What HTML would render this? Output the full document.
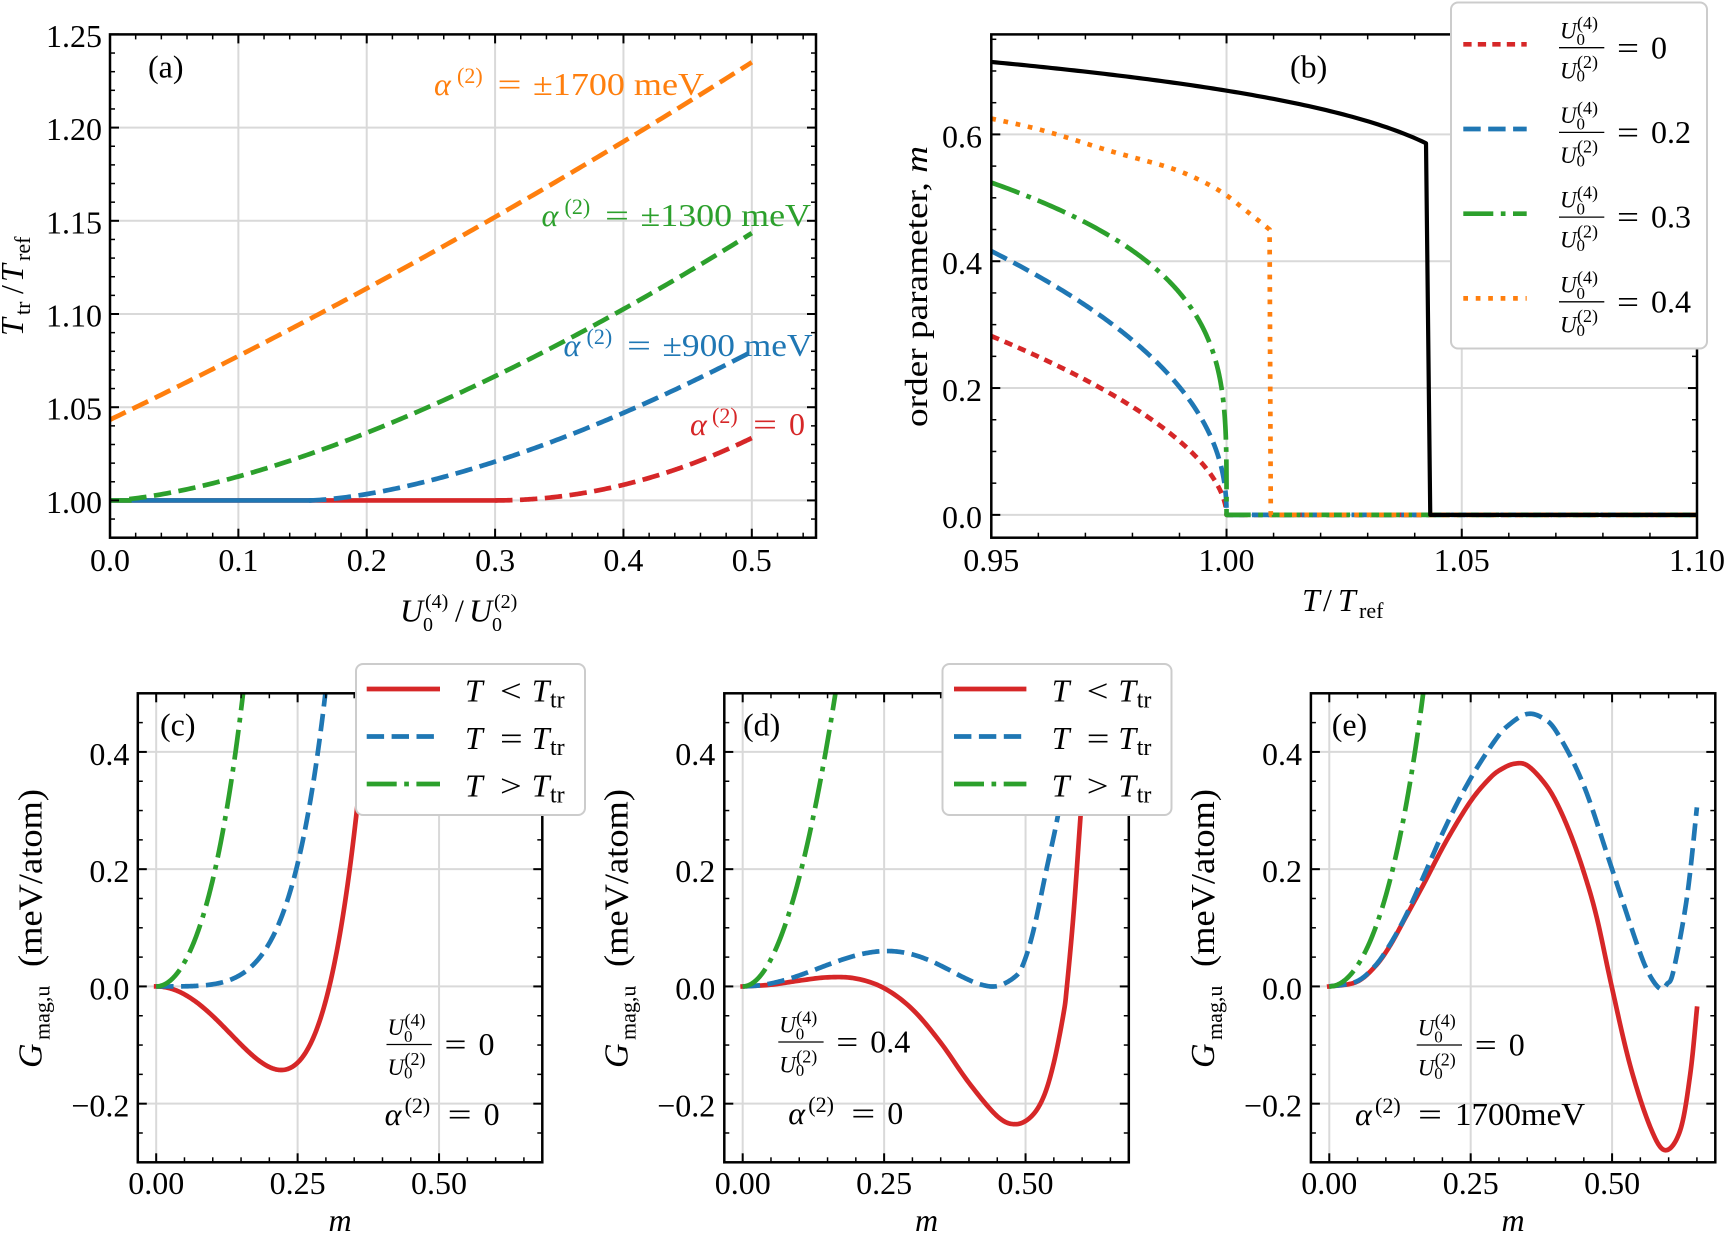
<!DOCTYPE html>
<html><head><meta charset="utf-8">
<style>
html,body{margin:0;padding:0;background:#fff;}
svg{display:block;}
text{font-family:"Liberation Serif","DejaVu Serif",serif;}
.it{font-style:italic;}
</style></head><body>
<svg id="fig" width="1725" height="1235" viewBox="0 0 1725 1235" xmlns="http://www.w3.org/2000/svg">
<defs>
<clipPath id="ca"><rect x="110" y="34.4" width="706" height="503.3"/></clipPath>
<clipPath id="cb"><rect x="991.3" y="34.4" width="705.7" height="503.3"/></clipPath>
<clipPath id="cc"><rect x="137.8" y="693.3" width="404.5" height="469"/></clipPath>
<clipPath id="cd"><rect x="724.3" y="693.3" width="404.5" height="469"/></clipPath>
<clipPath id="ce"><rect x="1310.9" y="693.3" width="404.4" height="469"/></clipPath>
</defs>
<rect width="1725" height="1235" fill="#fff"/>
<g id="grid"></g>
<g id="cv_a" clip-path="url(#ca)"></g>
<g id="cv_b" clip-path="url(#cb)"></g>
<g id="cv_c" clip-path="url(#cc)"></g>
<g id="cv_d" clip-path="url(#cd)"></g>
<g id="cv_e" clip-path="url(#ce)"></g>
<g id="axes"></g>

<!-- tick labels -->
<g font-size="32" fill="#000">
<g text-anchor="end">
<text x="102" y="512.9">1.00</text>
<text x="102" y="419.7">1.05</text>
<text x="102" y="326.5">1.10</text>
<text x="102" y="233.3">1.15</text>
<text x="102" y="140.1">1.20</text>
<text x="102" y="46.9">1.25</text>
<text x="982" y="527.9">0.0</text>
<text x="982" y="401">0.2</text>
<text x="982" y="274.2">0.4</text>
<text x="982" y="147.4">0.6</text>
<text x="129.4" y="765">0.4</text>
<text x="129.4" y="882.2">0.2</text>
<text x="129.4" y="999.4">0.0</text>
<text x="129.4" y="1116.7">−0.2</text>
<text x="715.3" y="765">0.4</text>
<text x="715.3" y="882.2">0.2</text>
<text x="715.3" y="999.4">0.0</text>
<text x="715.3" y="1116.7">−0.2</text>
<text x="1302" y="765">0.4</text>
<text x="1302" y="882.2">0.2</text>
<text x="1302" y="999.4">0.0</text>
<text x="1302" y="1116.7">−0.2</text>
</g>
<g text-anchor="middle">
<text x="110" y="571">0.0</text>
<text x="238.4" y="571">0.1</text>
<text x="366.7" y="571">0.2</text>
<text x="495.1" y="571">0.3</text>
<text x="623.4" y="571">0.4</text>
<text x="751.8" y="571">0.5</text>
<text x="991.3" y="571">0.95</text>
<text x="1226.5" y="571">1.00</text>
<text x="1461.8" y="571">1.05</text>
<text x="1697" y="571">1.10</text>
<text x="156.2" y="1194">0.00</text>
<text x="297.6" y="1194">0.25</text>
<text x="439" y="1194">0.50</text>
<text x="742.7" y="1194">0.00</text>
<text x="884.1" y="1194">0.25</text>
<text x="1025.5" y="1194">0.50</text>
<text x="1329.3" y="1194">0.00</text>
<text x="1470.7" y="1194">0.25</text>
<text x="1612.1" y="1194">0.50</text>
</g>
</g>

<!-- axis labels -->
<g fill="#000" font-size="32">
<text><tspan x="400" y="621.7" class="it">U</tspan><tspan x="423" y="631" font-size="20">0</tspan><tspan x="425" y="608" font-size="20">(4)</tspan><tspan x="455" y="621.7">/</tspan><tspan x="469" y="621.7" class="it">U</tspan><tspan x="492" y="631" font-size="20">0</tspan><tspan x="494" y="608" font-size="20">(2)</tspan></text>
<text transform="translate(23,336) rotate(-90)"><tspan x="0" y="0" class="it">T</tspan><tspan x="21" y="7" font-size="22">tr</tspan><tspan x="42" y="0">/</tspan><tspan x="54" y="0" class="it">T</tspan><tspan x="75" y="7" font-size="22">ref</tspan></text>
<text><tspan x="1302" y="611" class="it">T</tspan><tspan x="1323" y="611">/</tspan><tspan x="1338" y="611" class="it">T</tspan><tspan x="1359" y="618" font-size="22">ref</tspan></text>
<text transform="translate(927,427) rotate(-90)" x="0" y="0" textLength="281" lengthAdjust="spacingAndGlyphs">order parameter, <tspan class="it">m</tspan></text>
<text x="340" y="1231" text-anchor="middle" class="it">m</text>
<text x="926.5" y="1231" text-anchor="middle" class="it">m</text>
<text x="1513" y="1231" text-anchor="middle" class="it">m</text>
<g transform="translate(41.6,1068) rotate(-90)">
<text x="0" y="0" class="it" font-size="34">G</text><text x="28" y="8" font-size="22">mag,u</text><text x="101" y="0" font-size="34" textLength="178" lengthAdjust="spacingAndGlyphs">(meV/atom)</text>
</g>
<g transform="translate(627.6,1068) rotate(-90)">
<text x="0" y="0" class="it" font-size="34">G</text><text x="28" y="8" font-size="22">mag,u</text><text x="101" y="0" font-size="34" textLength="178" lengthAdjust="spacingAndGlyphs">(meV/atom)</text>
</g>
<g transform="translate(1214,1068) rotate(-90)">
<text x="0" y="0" class="it" font-size="34">G</text><text x="28" y="8" font-size="22">mag,u</text><text x="101" y="0" font-size="34" textLength="178" lengthAdjust="spacingAndGlyphs">(meV/atom)</text>
</g>
<!-- panel labels -->
<text x="148" y="77.5">(a)</text>
<text x="1290" y="77.5">(b)</text>
<text x="160" y="735.4">(c)</text>
<text x="743" y="735.4">(d)</text>
<text x="1331.7" y="735.4">(e)</text>
</g>

<!-- annotations panel a -->
<g font-size="32">
<g transform="translate(434,95)" fill="#ff7f0e"><text class="it" x="0" y="0">α</text><text font-size="22" x="23" y="-12">(2)</text><text x="63.5" y="0" textLength="24" lengthAdjust="spacingAndGlyphs">=</text><text x="99" y="0" textLength="171" lengthAdjust="spacingAndGlyphs">±1700 meV</text></g>
<g transform="translate(541.5,226)" fill="#2ca02c"><text class="it" x="0" y="0">α</text><text font-size="22" x="23" y="-12">(2)</text><text x="63.5" y="0" textLength="24" lengthAdjust="spacingAndGlyphs">=</text><text x="99" y="0" textLength="170.5" lengthAdjust="spacingAndGlyphs">±1300 meV</text></g>
<g transform="translate(563.5,356)" fill="#1f77b4"><text class="it" x="0" y="0">α</text><text font-size="22" x="23" y="-12">(2)</text><text x="63.5" y="0" textLength="24" lengthAdjust="spacingAndGlyphs">=</text><text x="99" y="0" textLength="150" lengthAdjust="spacingAndGlyphs">±900 meV</text></g>
<g transform="translate(690,435)" fill="#d62728"><text class="it" x="0" y="0">α</text><text font-size="22" x="22" y="-12">(2)</text><text x="63" y="0" textLength="24" lengthAdjust="spacingAndGlyphs">=</text><text x="99" y="0">0</text></g>
</g>

<!-- annotations bottom panels -->
<g font-size="32" fill="#000">
<g transform="translate(386.5,1044.5)">
<line x1="0" y1="0" x2="45.3" y2="0" stroke="#000" stroke-width="1.3"/>
<text x="1" y="-9.4" class="it" font-size="23">U</text><text x="17.5" y="-2.7" font-size="17">0</text><text x="18" y="-18.5" font-size="18">(4)</text>
<text x="1" y="30.6" class="it" font-size="23">U</text><text x="17.5" y="34" font-size="17">0</text><text x="18" y="20.3" font-size="18">(2)</text>
<text x="58" y="10.6" textLength="22" lengthAdjust="spacingAndGlyphs">=</text><text x="92" y="10.6">0</text>
</g>
<g transform="translate(384.6,1125)"><text class="it" x="0" y="0">α</text><text font-size="22" x="20" y="-12">(2)</text><text x="63" y="0" textLength="24" lengthAdjust="spacingAndGlyphs">=</text><text x="99" y="0">0</text></g>

<g transform="translate(778.3,1042)">
<line x1="0" y1="0" x2="45.3" y2="0" stroke="#000" stroke-width="1.3"/>
<text x="1" y="-9.4" class="it" font-size="23">U</text><text x="17.5" y="-2.7" font-size="17">0</text><text x="18" y="-18.5" font-size="18">(4)</text>
<text x="1" y="30.6" class="it" font-size="23">U</text><text x="17.5" y="34" font-size="17">0</text><text x="18" y="20.3" font-size="18">(2)</text>
<text x="58" y="10.6" textLength="22" lengthAdjust="spacingAndGlyphs">=</text><text x="92" y="10.6">0.4</text>
</g>
<g transform="translate(788.3,1124)"><text class="it" x="0" y="0">α</text><text font-size="22" x="20" y="-12">(2)</text><text x="63" y="0" textLength="24" lengthAdjust="spacingAndGlyphs">=</text><text x="99" y="0">0</text></g>

<g transform="translate(1416.7,1045)">
<line x1="0" y1="0" x2="45.3" y2="0" stroke="#000" stroke-width="1.3"/>
<text x="1" y="-9.4" class="it" font-size="23">U</text><text x="17.5" y="-2.7" font-size="17">0</text><text x="18" y="-18.5" font-size="18">(4)</text>
<text x="1" y="30.6" class="it" font-size="23">U</text><text x="17.5" y="34" font-size="17">0</text><text x="18" y="20.3" font-size="18">(2)</text>
<text x="58" y="10.6" textLength="22" lengthAdjust="spacingAndGlyphs">=</text><text x="92" y="10.6">0</text>
</g>
<g transform="translate(1355,1125)"><text class="it" x="0" y="0">α</text><text font-size="22" x="20" y="-12">(2)</text><text x="63" y="0" textLength="24" lengthAdjust="spacingAndGlyphs">=</text><text x="100" y="0" textLength="130" lengthAdjust="spacingAndGlyphs">1700meV</text></g>
</g>

<!-- legends -->
<g id="legends" font-size="32" fill="#000">
<!-- legend b -->
<rect x="1451" y="2.5" width="256" height="346" rx="7" fill="#fff" stroke="#cccccc" stroke-width="2"/>
<line x1="1463.3" y1="44.3" x2="1526.7" y2="44.3" stroke="#d62728" stroke-width="4.7" stroke-dasharray="8.3 6.2"/>
<line x1="1463.3" y1="129" x2="1526.7" y2="129" stroke="#1f77b4" stroke-width="4.7" stroke-dasharray="17.4 7.5"/>
<line x1="1463.3" y1="213.7" x2="1526.7" y2="213.7" stroke="#2ca02c" stroke-width="4.7" stroke-dasharray="30 7.5 4.7 7.5"/>
<line x1="1463.3" y1="298.4" x2="1526.7" y2="298.4" stroke="#ff7f0e" stroke-width="4.7" stroke-dasharray="4.7 7.75"/>
<g transform="translate(1559,47.7)">
<line x1="0" y1="0" x2="45.3" y2="0" stroke="#000" stroke-width="1.3"/>
<text x="1" y="-9.4" class="it" font-size="23">U</text><text x="17.5" y="-2.7" font-size="17">0</text><text x="18" y="-18.5" font-size="18">(4)</text>
<text x="1" y="30.6" class="it" font-size="23">U</text><text x="17.5" y="34" font-size="17">0</text><text x="18" y="20.3" font-size="18">(2)</text>
<text x="58" y="10.6" textLength="22" lengthAdjust="spacingAndGlyphs">=</text><text x="92" y="10.6">0</text>
</g>
<g transform="translate(1559,132.4)">
<line x1="0" y1="0" x2="45.3" y2="0" stroke="#000" stroke-width="1.3"/>
<text x="1" y="-9.4" class="it" font-size="23">U</text><text x="17.5" y="-2.7" font-size="17">0</text><text x="18" y="-18.5" font-size="18">(4)</text>
<text x="1" y="30.6" class="it" font-size="23">U</text><text x="17.5" y="34" font-size="17">0</text><text x="18" y="20.3" font-size="18">(2)</text>
<text x="58" y="10.6" textLength="22" lengthAdjust="spacingAndGlyphs">=</text><text x="92" y="10.6">0.2</text>
</g>
<g transform="translate(1559,217.1)">
<line x1="0" y1="0" x2="45.3" y2="0" stroke="#000" stroke-width="1.3"/>
<text x="1" y="-9.4" class="it" font-size="23">U</text><text x="17.5" y="-2.7" font-size="17">0</text><text x="18" y="-18.5" font-size="18">(4)</text>
<text x="1" y="30.6" class="it" font-size="23">U</text><text x="17.5" y="34" font-size="17">0</text><text x="18" y="20.3" font-size="18">(2)</text>
<text x="58" y="10.6" textLength="22" lengthAdjust="spacingAndGlyphs">=</text><text x="92" y="10.6">0.3</text>
</g>
<g transform="translate(1559,301.8)">
<line x1="0" y1="0" x2="45.3" y2="0" stroke="#000" stroke-width="1.3"/>
<text x="1" y="-9.4" class="it" font-size="23">U</text><text x="17.5" y="-2.7" font-size="17">0</text><text x="18" y="-18.5" font-size="18">(4)</text>
<text x="1" y="30.6" class="it" font-size="23">U</text><text x="17.5" y="34" font-size="17">0</text><text x="18" y="20.3" font-size="18">(2)</text>
<text x="58" y="10.6" textLength="22" lengthAdjust="spacingAndGlyphs">=</text><text x="92" y="10.6">0.4</text>
</g>

<!-- legend c -->
<rect x="356" y="664" width="229" height="151" rx="7" fill="#fff" stroke="#cccccc" stroke-width="2"/>
<line x1="366.7" y1="689" x2="440" y2="689" stroke="#d62728" stroke-width="4.7"/>
<line x1="366.7" y1="736.5" x2="440" y2="736.5" stroke="#1f77b4" stroke-width="4.7" stroke-dasharray="17.4 7.5"/>
<line x1="366.7" y1="784" x2="440" y2="784" stroke="#2ca02c" stroke-width="4.7" stroke-dasharray="30 7.5 4.7 7.5"/>
<g transform="translate(465,701.7)"><text class="it" x="0" y="0">T</text><text x="35" y="0" textLength="21.7" lengthAdjust="spacingAndGlyphs">&lt;</text><text class="it" x="66.7" y="0">T</text><text x="85" y="6" font-size="24">tr</text></g>
<g transform="translate(465,749.2)"><text class="it" x="0" y="0">T</text><text x="35" y="0" textLength="22.7" lengthAdjust="spacingAndGlyphs">=</text><text class="it" x="66.7" y="0">T</text><text x="85" y="6" font-size="24">tr</text></g>
<g transform="translate(465,796.7)"><text class="it" x="0" y="0">T</text><text x="35" y="0" textLength="21.7" lengthAdjust="spacingAndGlyphs">&gt;</text><text class="it" x="66.7" y="0">T</text><text x="85" y="6" font-size="24">tr</text></g>

<!-- legend d -->
<rect x="942.5" y="664" width="229" height="151" rx="7" fill="#fff" stroke="#cccccc" stroke-width="2"/>
<line x1="954" y1="689" x2="1026.4" y2="689" stroke="#d62728" stroke-width="4.7"/>
<line x1="954" y1="736.5" x2="1026.4" y2="736.5" stroke="#1f77b4" stroke-width="4.7" stroke-dasharray="17.4 7.5"/>
<line x1="954" y1="784" x2="1026.4" y2="784" stroke="#2ca02c" stroke-width="4.7" stroke-dasharray="30 7.5 4.7 7.5"/>
<g transform="translate(1051.7,701.7)"><text class="it" x="0" y="0">T</text><text x="35" y="0" textLength="21.7" lengthAdjust="spacingAndGlyphs">&lt;</text><text class="it" x="66.7" y="0">T</text><text x="85" y="6" font-size="24">tr</text></g>
<g transform="translate(1051.7,749.2)"><text class="it" x="0" y="0">T</text><text x="35" y="0" textLength="22.7" lengthAdjust="spacingAndGlyphs">=</text><text class="it" x="66.7" y="0">T</text><text x="85" y="6" font-size="24">tr</text></g>
<g transform="translate(1051.7,796.7)"><text class="it" x="0" y="0">T</text><text x="35" y="0" textLength="21.7" lengthAdjust="spacingAndGlyphs">&gt;</text><text class="it" x="66.7" y="0">T</text><text x="85" y="6" font-size="24">tr</text></g>
</g>
</svg>
<script>
(function(){
var NS='http://www.w3.org/2000/svg';
function el(par,tag,at){var e=document.createElementNS(NS,tag);for(var k in at)e.setAttribute(k,at[k]);par.appendChild(e);return e;}
var P={
a:{id:'a',l:110,r:816,t:34.4,b:537.7,x0:0,x1:0.55,y0:0.98,y1:1.25},
b:{id:'b',l:991.3,r:1697,t:34.4,b:537.7,x0:0.95,x1:1.10,y0:-0.036,y1:0.7577},
c:{id:'c',l:137.8,r:542.3,t:693.3,b:1162.3,x0:-0.0325,x1:0.6825,y0:-0.3,y1:0.5},
d:{id:'d',l:724.3,r:1128.8,t:693.3,b:1162.3,x0:-0.0325,x1:0.6825,y0:-0.3,y1:0.5},
e:{id:'e',l:1310.9,r:1715.3,t:693.3,b:1162.3,x0:-0.0325,x1:0.6825,y0:-0.3,y1:0.5}};
function X(p,v){return p.l+(v-p.x0)/(p.x1-p.x0)*(p.r-p.l);}
function Y(p,v){return p.b-(v-p.y0)/(p.y1-p.y0)*(p.b-p.t);}
var grid=document.getElementById('grid'),axg=document.getElementById('axes');
function rng(a,b,s){var o=[];for(var i=0;;i++){var v=+(a+i*s).toFixed(6);if(v>b+1e-9)break;o.push(v);}return o;}
function minor(a,b,s,maj){return rng(a,b,s).filter(function(v){return !maj.some(function(m){return Math.abs(m-v)<1e-6;});});}
function tk(x1,y1,x2,y2,w){el(axg,'line',{x1:x1,y1:y1,x2:x2,y2:y2,stroke:'#000','stroke-width':w});}
function axes(p,xM,xm,yM,ym){
 xM.forEach(function(v){var x=X(p,v);el(grid,'line',{x1:x,x2:x,y1:p.t,y2:p.b,stroke:'#d9d9d9','stroke-width':2});
  tk(x,p.b,x,p.b-9,2);tk(x,p.t,x,p.t+9,2);});
 xm.forEach(function(v){var x=X(p,v);tk(x,p.b,x,p.b-5,1.5);tk(x,p.t,x,p.t+5,1.5);});
 yM.forEach(function(v){var y=Y(p,v);el(grid,'line',{x1:p.l,x2:p.r,y1:y,y2:y,stroke:'#d9d9d9','stroke-width':2});
  tk(p.l,y,p.l+9,y,2);tk(p.r,y,p.r-9,y,2);});
 ym.forEach(function(v){var y=Y(p,v);tk(p.l,y,p.l+5,y,1.5);tk(p.r,y,p.r-5,y,1.5);});
 el(axg,'rect',{x:p.l,y:p.t,width:p.r-p.l,height:p.b-p.t,fill:'none',stroke:'#000','stroke-width':2.5});
}
var aM=rng(0,0.5,0.1),aY=rng(1.0,1.25,0.05);
axes(P.a,aM,minor(0,0.55,0.02,aM),aY,minor(0.98,1.25,0.01,aY));
var bM=rng(0.95,1.10,0.05),bY=rng(0,0.6,0.2);
axes(P.b,bM,minor(0.95,1.10,0.01,bM),bY,minor(0,0.75,0.05,bY));
var cM=rng(0,0.5,0.25),cY=rng(-0.2,0.4,0.2);
['c','d','e'].forEach(function(k){axes(P[k],cM,minor(0,0.65,0.05,cM),cY,minor(-0.3,0.5,0.05,cY));});

function toPix(p,pts){return pts.map(function(q){return [X(p,q[0]),Y(p,q[1])];});}
function crp(pp,n){n=n||14;var o=[];for(var i=0;i<pp.length-1;i++){var a=pp[Math.max(0,i-1)],b=pp[i],c=pp[i+1],d=pp[Math.min(pp.length-1,i+2)];
 for(var k=0;k<n;k++){var t=k/n,t2=t*t,t3=t2*t;
  var f=function(j){return 0.5*(2*b[j]+(-a[j]+c[j])*t+(2*a[j]-5*b[j]+4*c[j]-d[j])*t2+(-a[j]+3*b[j]-3*c[j]+d[j])*t3);};
  o.push([f(0),f(1)]);}}
 o.push(pp[pp.length-1]);return o;}
function draw(p,pp,col,dash,lw){var d=pp.map(function(q,i){return (i?'L':'M')+q[0].toFixed(2)+' '+q[1].toFixed(2);}).join('');
 var at={d:d,fill:'none',stroke:col,'stroke-width':lw||4.7,'stroke-linejoin':'round','stroke-linecap':dash?'butt':'square'};
 if(dash)at['stroke-dasharray']=dash;el(document.getElementById('cv_'+p.id),'path',at);}
function samp(f,a,b,n){n=n||200;var o=[];for(var i=0;i<=n;i++){var x=a+(b-a)*i/n;o.push([x,f(x)]);}return o;}
var R='#d62728',BL='#1f77b4',GR='#2ca02c',OR='#ff7f0e';
var DASH='17.4 7.5',DD='30 7.5 4.7 7.5',DOT='4.7 7.75',RDOT='8.3 6.2';

// panel a
var A=P.a;
draw(A,toPix(A,[[0,1],[0.3,1]]),R,null);
draw(A,toPix(A,samp(function(u){return 1+0.8375*(u-0.3)*(u-0.3);},0.3,0.5)),R,DASH);
draw(A,toPix(A,[[0,1],[0.155,1]]),BL,null);
draw(A,toPix(A,samp(function(u){return 1+0.416*Math.pow(u-0.155,1.551);},0.155,0.5)),BL,DASH);
draw(A,toPix(A,[[0,1],[0.015,1]]),GR,null);
draw(A,toPix(A,samp(function(u){return 1+0.4056*Math.pow(u,1.5);},0.015,0.5)),GR,DASH);
draw(A,toPix(A,samp(function(u){return 1.0433+0.331*u+0.105*u*u;},0,0.5)),OR,DASH);

// panel b
var B=P.b;
function br(a,beta){var o=[];for(var i=0;i<=200;i++){var s=i/200;var T=1-0.05*Math.pow(1-s,2.5);o.push([T,a*Math.pow(Math.max(0,(1-T))/0.05,beta)]);}o.push([1.10,0]);return o;}
draw(B,toPix(B,br(0.282,0.55)),R,RDOT);
draw(B,toPix(B,br(0.416,0.45)),BL,DASH);
draw(B,toPix(B,br(0.524,0.25)),GR,DD);
var op=crp(toPix(B,[[0.95,0.625],[0.9611,0.606],[0.9752,0.574],[0.9881,0.547],[0.9951,0.525],[0.99977,0.505],[1.00445,0.478],[1.00915,0.450]]));
op=op.concat(toPix(B,[[1.0094,0],[1.10,0]]));
draw(B,op,OR,DOT);
var bk=samp(function(T){return 0.586*Math.pow((1.06-T)/0.0176,0.108);},0.95,1.0424,100);
bk.push([1.0433,0]);bk.push([1.10,0]);
draw(B,toPix(B,bk),'#000',null,4.2);

// panel c
var C=P.c;
draw(C,toPix(C,samp(function(m){var u=m*m;return -5.55*u+48*u*u+120*u*u*u;},0,0.38)),R,null);
draw(C,toPix(C,samp(function(m){var u=m*m;return 32.9*u*u+331*u*u*u;},0,0.305)),BL,DASH);
draw(C,toPix(C,samp(function(m){return 16*m*m+220*Math.pow(m,4);},0,0.16)),GR,DD);

// panel d
var D=P.d;
draw(D,crp(toPix(D,[[0,0],[0.05,0.0029],[0.1,0.0099],[0.15,0.0155],[0.2,0.0135],[0.25,-0.003],[0.3,-0.039],[0.35,-0.096],[0.4,-0.1645],[0.45,-0.2214],[0.482,-0.235],[0.51,-0.222],[0.5318,-0.1885],[0.55,-0.13],[0.5671,-0.0465],[0.5731,0],[0.5848,0.1238],[0.5966,0.2828],[0.606,0.41],[0.6125,0.5],[0.62,0.6]])),R,null);
var db=[];for(var i=0;i<=16;i++){var m=i*0.03,u=m*m;db.push([m,54.6*u*(u-0.1954)*(u-0.1954)]);}
db=db.concat([[0.495,0.036],[0.514,0.0954],[0.5378,0.2033],[0.5555,0.2828],[0.575,0.39],[0.59,0.5],[0.6,0.58]]);
draw(D,crp(toPix(D,db)),BL,DASH);
draw(D,toPix(D,samp(function(m){return 18.6*m*m;},0,0.17)),GR,DD);

// panel e
var E=P.e;
draw(E,crp(toPix(E,[[0,0],[0.0473,0.0073],[0.08,0.033],[0.1064,0.068],[0.135,0.118],[0.1655,0.172],[0.2069,0.248],[0.25,0.316],[0.2837,0.355],[0.305,0.371],[0.328,0.38],[0.35,0.377],[0.378,0.35],[0.40,0.317],[0.4255,0.262],[0.45,0.195],[0.4728,0.118],[0.4993,0],[0.532,-0.135],[0.5674,-0.2397],[0.594,-0.2794],[0.6206,-0.245],[0.6383,-0.1488],[0.650,-0.038]])),R,null);
draw(E,crp(toPix(E,[[0,0],[0.0473,0.008],[0.08,0.034],[0.1064,0.07],[0.135,0.12],[0.1655,0.185],[0.2069,0.275],[0.25,0.355],[0.2955,0.423],[0.32,0.448],[0.3487,0.4645],[0.375,0.459],[0.402,0.434],[0.449,0.345],[0.4965,0.21],[0.5438,0.0727],[0.565,0.022],[0.585,-0.004],[0.597,0.004],[0.6087,0.0273],[0.6324,0.152],[0.650,0.3055]])),BL,DASH);
draw(E,toPix(E,samp(function(m){return 14*m*m+150*Math.pow(m,4);},0,0.17)),GR,DD);
})();
</script>
</body></html>
